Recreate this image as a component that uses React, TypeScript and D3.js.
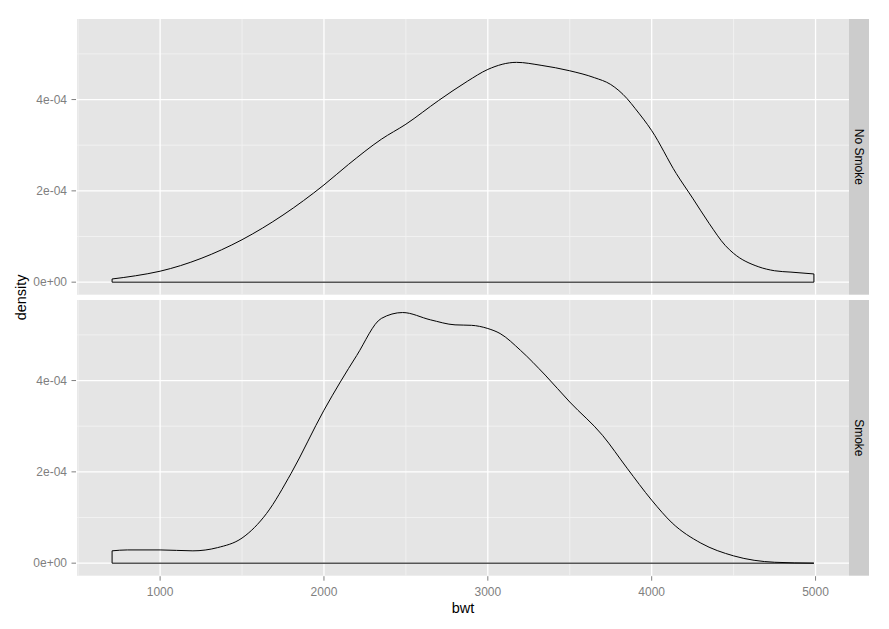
import * as d3 from "d3";

// density estimates (density in units of 1e-4)
const bwtNoSmoke = [707, 850, 1000, 1250, 1500, 1750, 2000, 2150, 2350, 2500, 2700, 2875, 3000, 3175, 3325, 3500, 3650, 3750, 3850, 3900, 4000, 4150, 4250, 4350, 4450, 4500, 4650, 4750, 4850, 4990];
const densNoSmoke = [0.07, 0.14, 0.24, 0.52, 0.93, 1.47, 2.13, 2.58, 3.13, 3.46, 3.98, 4.4, 4.66, 4.815, 4.75, 4.63, 4.48, 4.33, 4.02, 3.8, 3.32, 2.38, 1.84, 1.29, 0.8, 0.63, 0.34, 0.25, 0.22, 0.18];

const bwtSmoke = [707, 800, 1000, 1200, 1350, 1500, 1650, 1800, 2000, 2200, 2350, 2480, 2650, 2800, 2900, 3000, 3075, 3200, 3350, 3500, 3700, 3850, 4000, 4125, 4300, 4500, 4750, 4990];
const densSmoke = [0.27, 0.29, 0.29, 0.27, 0.34, 0.55, 1.09, 1.97, 3.35, 4.55, 5.36, 5.49, 5.33, 5.22, 5.21, 5.14, 5.03, 4.66, 4.12, 3.53, 2.8, 2.08, 1.38, 0.88, 0.44, 0.16, 0.02, 0.0];

const facets = ["No Smoke", "Smoke"];
const xTicks = [1000, 2000, 3000, 4000, 5000];
const xMinor = [500, 1500, 2500, 3500, 4500];
const yTicks = [0, 2, 4];
const yTickLabels = ["0e+00", "2e-04", "4e-04"];
const yMinor = [1, 3, 5];

const W = 889, H = 629;
const left = 77, right = 849, stripW = 20;
const panelTops = [19, 300];
const panelH = 275.7;
const font = "Liberation Sans, Arial, sans-serif";

export default function App() {
  const series = [
    { bwt: bwtNoSmoke, dens: densNoSmoke },
    { bwt: bwtSmoke, dens: densSmoke },
  ];
  const allX = [...bwtNoSmoke, ...bwtSmoke];
  const [x0, x1] = d3.extent(allX) as [number, number];
  const xPad = (x1 - x0) * 0.05;
  const xScale = d3.scaleLinear().domain([x0 - xPad, x1 + xPad]).range([left, right]);
  const yMax = d3.max([...densNoSmoke, ...densSmoke]) as number;
  const yDomain: [number, number] = [-yMax * 0.05, yMax * 1.05];

  return (
    <svg width={W} height={H} style={{ position: "absolute", left: 0, top: 0 }} fontFamily={font}>
      <rect width={W} height={H} fill="white" />
      {series.map((s, k) => {
        const top = panelTops[k];
        const yScale = d3.scaleLinear().domain(yDomain).range([top + panelH, top]);
        const pts = s.bwt.map((b, i) => [b, s.dens[i]] as [number, number]);
        const line = d3
          .line<[number, number]>()
          .x((d) => xScale(d[0]))
          .y((d) => yScale(d[1]))
          .curve(d3.curveMonotoneX);
        const first = pts[0], last = pts[pts.length - 1];
        const closing = `M${xScale(last[0])},${yScale(last[1])}L${xScale(last[0])},${yScale(0)}L${xScale(first[0])},${yScale(0)}L${xScale(first[0])},${yScale(first[1])}`;
        return (
          <g key={k}>
            <rect x={left} y={top} width={right - left} height={panelH} fill="#E5E5E5" />
            {yMinor.map((t) => (
              <line key={"ym" + t} x1={left} x2={right} y1={yScale(t)} y2={yScale(t)} stroke="#F2F2F2" strokeWidth={0.9} />
            ))}
            {xMinor.map((t) => (
              <line key={"xm" + t} x1={xScale(t)} x2={xScale(t)} y1={top} y2={top + panelH} stroke="#F2F2F2" strokeWidth={0.9} />
            ))}
            {yTicks.map((t) => (
              <line key={"y" + t} x1={left} x2={right} y1={yScale(t)} y2={yScale(t)} stroke="white" strokeWidth={1.3} />
            ))}
            {xTicks.map((t) => (
              <line key={"x" + t} x1={xScale(t)} x2={xScale(t)} y1={top} y2={top + panelH} stroke="white" strokeWidth={1.3} />
            ))}
            <path d={line(pts) || ""} fill="none" stroke="black" strokeWidth={1} />
            <path d={closing} fill="none" stroke="black" strokeWidth={1} />
            {yTicks.map((t, i) => (
              <g key={"yl" + t}>
                <line x1={71.5} x2={left - 1} y1={yScale(t)} y2={yScale(t)} stroke="#7F7F7F" strokeWidth={1} />
                <text x={67} y={yScale(t)} dy="0.35em" textAnchor="end" fontSize={12} fill="#7F7F7F">
                  {yTickLabels[i]}
                </text>
              </g>
            ))}
            <rect x={right} y={top} width={stripW} height={panelH} fill="#CCCCCC" />
            <text
              transform={`translate(${right + stripW / 2},${top + panelH / 2}) rotate(90)`}
              textAnchor="middle"
              dy="0.35em"
              fontSize={12}
              fill="black"
            >
              {facets[k]}
            </text>
          </g>
        );
      })}
      {xTicks.map((t) => (
        <g key={"xl" + t}>
          <line x1={xScale(t)} x2={xScale(t)} y1={panelTops[1] + panelH + 0.5} y2={panelTops[1] + panelH + 5} stroke="#7F7F7F" strokeWidth={1} />
          <text x={xScale(t)} y={596} textAnchor="middle" fontSize={12} fill="#7F7F7F">
            {t}
          </text>
        </g>
      ))}
      <text x={(left + right) / 2} y={613} textAnchor="middle" fontSize={14.5} fill="black">
        bwt
      </text>
      <text
        transform={`translate(26,${(panelTops[0] + panelTops[1] + panelH) / 2}) rotate(-90)`}
        textAnchor="middle"
        fontSize={14.5}
        fill="black"
      >
        density
      </text>
    </svg>
  );
}
